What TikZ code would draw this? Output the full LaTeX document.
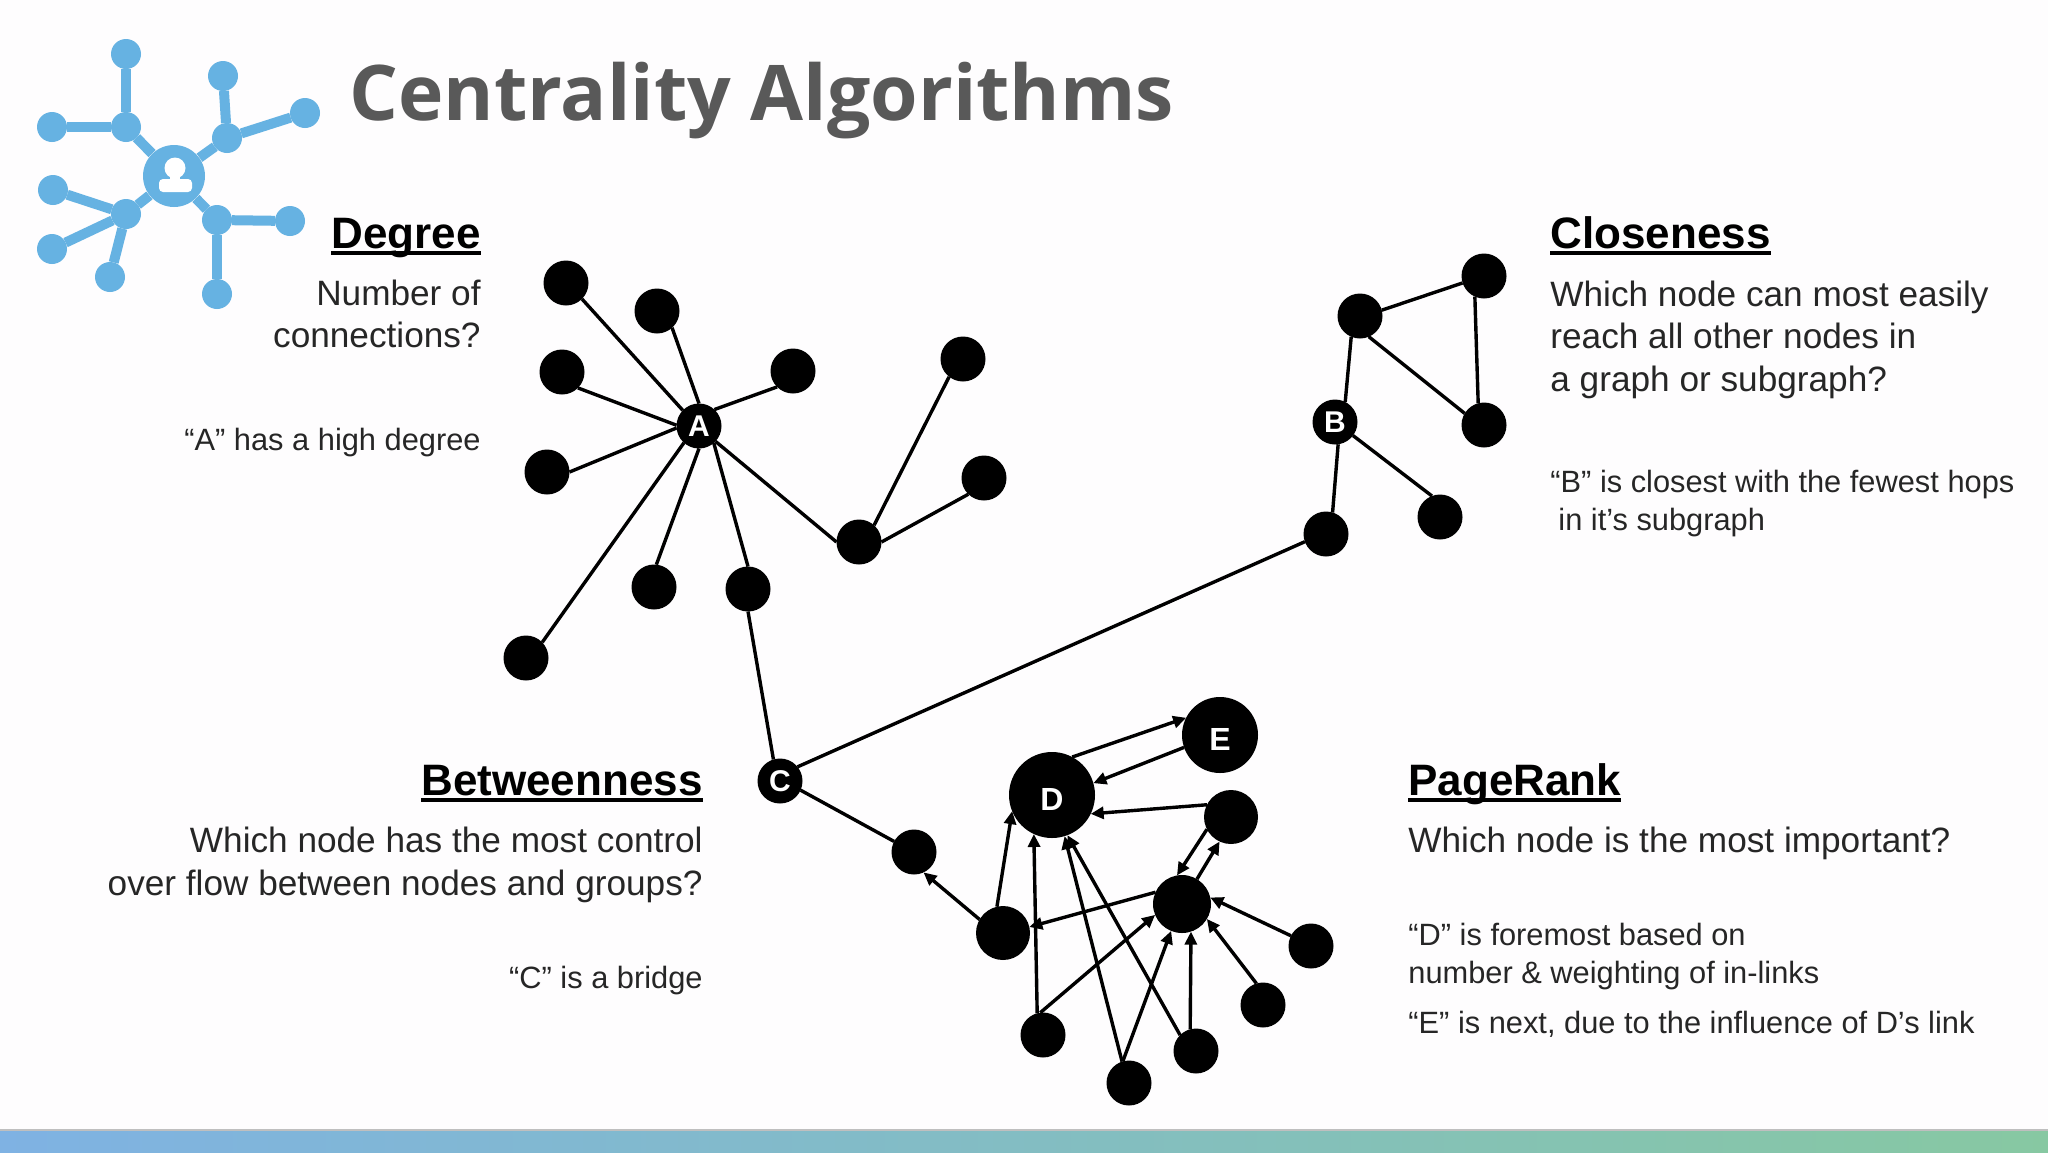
\documentclass[tikz,border=0pt]{standalone}
\usepackage{amsmath}
\usepackage{fontspec}
\setmainfont{Liberation Sans}
\newfontfamily\titlefont{Open Sans}
\usetikzlibrary{arrows.meta,positioning}
\definecolor{iconblue}{HTML}{66B2E2}
\definecolor{titlegray}{HTML}{595959}
\definecolor{bodygray}{HTML}{262626}
\definecolor{barleft}{HTML}{7FB2E3}
\definecolor{barright}{HTML}{87C8A2}
\definecolor{paper}{HTML}{FEFDFE}
\newcommand{\headtext}[1]{\vtop{\hbox{\smash[b]{#1}}\kern1.7pt\hrule height 1.7pt}}

\begin{document}
\begin{tikzpicture}[x=0.5pt, y=-0.5pt,
    dot/.style={circle, fill=black, inner sep=0pt, outer sep=0pt, minimum size=22.5pt, text=white, font=\fontsize{15}{15}\selectfont\bfseries},
    bigdot/.style={dot, minimum size=27pt},
    bigletter/.style={font=\fontsize{16}{16}\selectfont\bfseries, text height=15.5pt, text depth=0pt},
    leafdot/.style={circle, fill=iconblue, inner sep=0pt, outer sep=0pt, minimum size=15pt},
    iconline/.style={iconblue, line width=5pt},
    edge/.style={black, line width=1.7pt},
    flowarrow/.style={edge, -{Triangle[length=6.5pt,width=6pt]}},
    heading/.style={inner sep=0pt, text=black, font=\fontsize{22}{22}\selectfont\bfseries},
    question/.style={inner sep=0pt, text=bodygray, font=\fontsize{17.6}{17.6}\selectfont},
    note/.style={inner sep=0pt, text=bodygray, font=\fontsize{15.4}{15.4}\selectfont}
]
    \useasboundingbox (0,0) rectangle (2048,1152);
    \fill[paper] (0,0) rectangle (2048,1152);

    % Bottom bar
    \fill[left color=barleft, right color=barright] (0,1130) rectangle (2048,1152);
    \draw[gray!50, line width=0.6pt] (0,1130) -- (2048,1130);

    % Title
    \node[anchor=base west, inner sep=0pt, text=titlegray, font=\fontsize{38.4}{38.4}\selectfont\titlefont\bfseries] (title) at (349,120) {Centrality Algorithms};

    % Icon
    \node[leafdot] (ihubA) at (126,127) {};
    \node[leafdot] (ihubB) at (227,138) {};
    \node[leafdot] (ihubC) at (126,214) {};
    \node[leafdot] (ihubD) at (217,220) {};
    \node[leafdot] (ileafA) at (126,54) {};
    \node[leafdot] (ileafB) at (52,127) {};
    \node[leafdot] (ileafC) at (223,76) {};
    \node[leafdot] (ileafD) at (305,113) {};
    \node[leafdot] (ileafE) at (53,190) {};
    \node[leafdot] (ileafF) at (52,249) {};
    \node[leafdot] (ileafG) at (110,277) {};
    \node[leafdot] (ileafH) at (290,221) {};
    \node[leafdot] (ileafI) at (217,294) {};
    \node[circle, fill=iconblue, inner sep=0pt, minimum size=31pt] (icenter) at (174,176) {};
    \draw[iconline] (icenter) -- (ihubA);
    \draw[iconline] (icenter) -- (ihubB);
    \draw[iconline] (icenter) -- (ihubC);
    \draw[iconline] (icenter) -- (ihubD);
    \draw[iconline] (ihubA) -- (ileafA);
    \draw[iconline] (ihubA) -- (ileafB);
    \draw[iconline] (ihubB) -- (ileafC);
    \draw[iconline] (ihubB) -- (ileafD);
    \draw[iconline] (ihubC) -- (ileafE);
    \draw[iconline] (ihubC) -- (ileafF);
    \draw[iconline] (ihubC) -- (ileafG);
    \draw[iconline] (ihubD) -- (ileafH);
    \draw[iconline] (ihubD) -- (ileafI);
    \fill[white] (175,168) circle (10.5);
    \fill[white] (170,174) rectangle (180,182);
    \fill[white, rounded corners=2pt] (159,179) rectangle (192,192);

    % Degree text
    \node[heading, anchor=base east] (degreehead) at (481,248) {\headtext{Degree}};
    \node[question, anchor=base east] (degreeA) at (481,305) {Number of};
    \node[question, anchor=base east] (degreeB) at (481,347) {connections?};
    \node[note, anchor=base east] (degreenote) at (481,450) {“A” has a high degree};

    % Closeness text
    \node[heading, anchor=base west] (closehead) at (1550,248) {\headtext{Closeness}};
    \node[question, anchor=base west] (closeA) at (1550,306) {Which node can most easily};
    \node[question, anchor=base west] (closeB) at (1550,348) {reach all other nodes in};
    \node[question, anchor=base west] (closeC) at (1550,391) {a graph or subgraph?};
    \node[note, anchor=base west] (closenoteA) at (1550,492) {“B” is closest with the fewest hops};
    \node[note, anchor=base west] (closenoteB) at (1558,530) {in it’s subgraph};

    % Betweenness text
    \node[heading, anchor=base east] (betweenhead) at (703,795) {\headtext{Betweenness}};
    \node[question, anchor=base east] (betweenA) at (703,852) {Which node has the most control};
    \node[question, anchor=base east] (betweenB) at (703,895) {over flow between nodes and groups?};
    \node[note, anchor=base east] (betweennote) at (703,988) {“C” is a bridge};

    % PageRank text
    \node[heading, anchor=base west] (rankhead) at (1408,795) {\headtext{PageRank}};
    \node[question, anchor=base west] (rankA) at (1408,852) {Which node is the most important?};
    \node[note, anchor=base west] (ranknoteA) at (1408,945) {“D” is foremost based on};
    \node[note, anchor=base west] (ranknoteB) at (1408,983) {number \& weighting of in-links};
    \node[note, anchor=base west] (ranknoteC) at (1408,1033) {“E” is next, due to the influence of D’s link};

    % Group around A
    \node[dot] (A) at (699,426) {A};
    \node[dot] (a1) at (566,283) {};
    \node[dot] (a2) at (657,311) {};
    \node[dot] (a3) at (562,372) {};
    \node[dot] (a4) at (793,371) {};
    \node[dot] (a5) at (547,472) {};
    \node[dot] (a6) at (654,587) {};
    \node[dot] (a7) at (526,658) {};
    \node[dot] (a8) at (748,589) {};
    \node[dot] (a9) at (859,542) {};
    \node[dot] (a10) at (963,359) {};
    \node[dot] (a11) at (984,478) {};
    \draw[edge] (A.136) -- (a1.315);
    \draw[edge] (A.90) -- (a2.312);
    \draw[edge] (A.178) -- (a3.315);
    \draw[edge] (A.47) -- (a4.225);
    \draw[edge] (A.185) -- (a5.0);
    \draw[edge] (A.270) -- (a6.84);
    \draw[edge] (A.228) -- (a7.44);
    \draw[edge] (A.311) -- (a8.90);
    \draw[edge] (A.317) -- (a9.180);
    \draw[edge] (a9.48) -- (a10.232);
    \draw[edge] (a9.0) -- (a11.226);

    % Group around B
    \node[dot] (B) at (1335,422) {B};
    \node[dot] (b1) at (1360,316) {};
    \node[dot] (b2) at (1484,276) {};
    \node[dot] (b3) at (1484,425) {};
    \node[dot] (b4) at (1440,517) {};
    \node[dot] (b5) at (1326,534) {};
    \draw[edge] (B.63) -- (b1.247);
    \draw[edge] (b1.15) -- (b2.198);
    \draw[edge] (b1.293) -- (b3.149);
    \draw[edge] (b2.246) -- (b3.105);
    \draw[edge] (B.323) -- (b4.111);
    \draw[edge] (B.278) -- (b5.73);

    % Bridge C
    \node[dot] (C) at (780,781) {C};
    \node[dot] (c1) at (914,852) {};
    \draw[edge] (a8.270) -- (C.107);
    \draw[edge] (C.39) -- (b5.200);
    \draw[edge] (C.336) -- (c1.152);

    % PageRank nodes
    \node[dot, bigletter, minimum size=43pt] (D) at (1052,795) {D};
    \node[dot, bigletter, minimum size=38pt] (E) at (1220,735) {E};
    \node[bigdot] (r1) at (1231,817) {};
    \node[dot, minimum size=29pt] (r2) at (1182,904) {};
    \node[bigdot] (r3) at (1003,933) {};
    \node[dot] (r4) at (1043,1035) {};
    \node[dot] (r5) at (1129,1083) {};
    \node[dot] (r6) at (1196,1051) {};
    \node[dot] (r7) at (1263,1005) {};
    \node[dot] (r8) at (1311,946) {};

    % PageRank arrows
    \draw[flowarrow] (D.62) -- (E.153);
    \draw[flowarrow] (E.199) -- (D.16);
    \draw[flowarrow] (r1.153) -- (D.-26);
    \draw[flowarrow] (r1.207) -- (r2.100);
    \draw[flowarrow] (r2.59) -- (r1.245);
    \draw[flowarrow] (r2.156) -- (r3.13);
    \draw[flowarrow] (r3.103) -- (D.202);
    \draw[flowarrow] (r3.150) -- (c1.295);
    \draw[flowarrow] (r4.105) -- (D.245);
    \draw[flowarrow] (r4.97) -- (r2.202);
    \draw[flowarrow] (r5.108) -- (D.287);
    \draw[flowarrow] (r5.106) -- (r2.248);
    \draw[flowarrow] (r6.135) -- (D.291);
    \draw[flowarrow] (r6.105) -- (r2.288);
    \draw[flowarrow] (r7.107) -- (r2.329);
    \draw[flowarrow] (r8.153) -- (r2.13);
\end{tikzpicture}
\end{document}
